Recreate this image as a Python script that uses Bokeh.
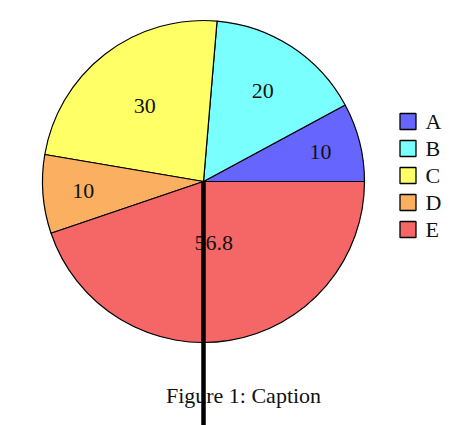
import numpy as np
from bokeh.plotting import figure
from bokeh.models import Range1d
from bokeh.core.properties import value
from bokeh.embed import file_html
from bokeh.resources import INLINE

# ---- data ----
categories = ["A", "B", "C", "D", "E"]
values = [10, 20, 30, 10, 56.8]
value_labels = ["10", "20", "30", "10", "56.8"]
colors = ["#6666FF", "#7AFFFF", "#FFFF66", "#FAB060", "#F56666"]
caption = "Figure 1: Caption"

# ---- layout (pixel-like data units) ----
W, H = 474, 425
CX, CY, R = 203, 244, 161
FONT = "Liberation Serif"

p = figure(width=W, height=H, output_backend="svg", toolbar_location=None,
           x_range=Range1d(0, W), y_range=Range1d(0, H), min_border=0)
p.axis.visible = False
p.grid.visible = False
p.outline_line_color = None
p.background_fill_color = "white"
p.border_fill_color = "white"

vals = np.array(values, dtype=float)
total = vals.sum()
spans = vals / total * 2 * np.pi
ends = np.cumsum(spans)
starts = ends - spans

p.wedge(x=CX, y=CY, radius=R, start_angle=list(starts), end_angle=list(ends),
        fill_color=colors, line_color="black", line_width=1.2)

# slice labels (pgf-pie style placement)
deg = np.degrees(spans)
frac = 0.8 + np.minimum(-(deg - 10) / 110 * 0.3, 0)
mid = (starts + ends) / 2
lx = CX + frac * R * np.cos(mid)
ly = CY + frac * R * np.sin(mid)
p.text(x=list(lx), y=list(ly), text=value_labels, text_align="center",
       text_baseline="middle", text_font=value(FONT), text_font_size="22px",
       text_color="#111111")

# legend
idx = np.arange(len(categories))
leg_y = 304 - 27 * idx
p.scatter(x=[407.5] * len(categories), y=list(leg_y), marker="square", size=16,
          fill_color=colors, line_color="black", line_width=1.3)
p.text(x=[425] * len(categories), y=list(leg_y), text=categories,
       text_align="left", text_baseline="middle", text_font=value(FONT),
       text_font_size="22px", text_color="#111111")

# caption
p.text(x=[243], y=[30], text=[caption], text_align="center",
       text_baseline="alphabetic", text_font=value(FONT), text_font_size="22px",
       text_color="#111111")

# thick line from centre downward
p.segment(x0=[CX], y0=[CY], x1=[CX], y1=[0], line_color="black", line_width=4.5)

open("out.html", "w").write(file_html(p, INLINE))
